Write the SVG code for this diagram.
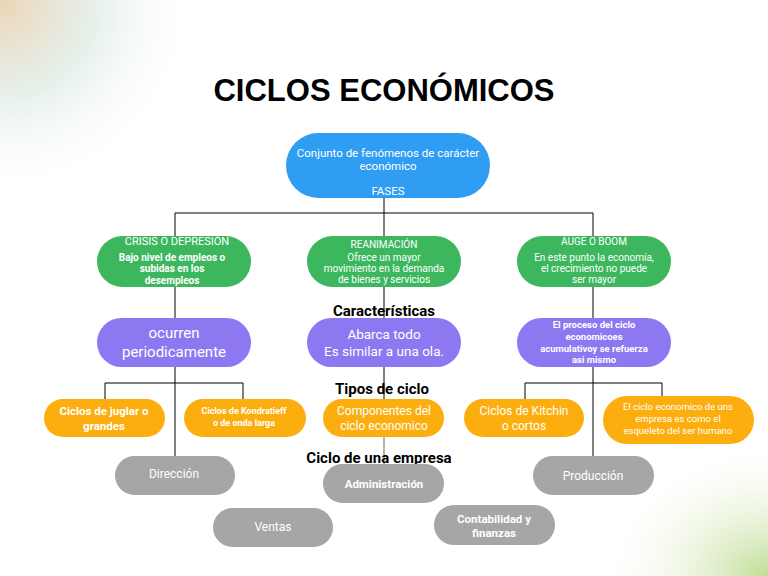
<svg xmlns="http://www.w3.org/2000/svg" width="768" height="576" viewBox="0 0 768 576">
<defs>
<radialGradient id="g1" cx="0" cy="0" r="1"><stop offset="0" stop-color="#e8c9a0" stop-opacity="0.8"/><stop offset="0.5" stop-color="#cfe3d8" stop-opacity="0.5"/><stop offset="1" stop-color="#fff" stop-opacity="0"/></radialGradient>
<radialGradient id="g2" cx="1" cy="1" r="1"><stop offset="0" stop-color="#b9d98a" stop-opacity="0.9"/><stop offset="0.6" stop-color="#e5f0d0" stop-opacity="0.4"/><stop offset="1" stop-color="#fff" stop-opacity="0"/></radialGradient>
</defs>
<style>
.c{fill:none;stroke:#000;stroke-width:1}
.t{font-family:Roboto,"Liberation Sans",sans-serif;text-anchor:middle;fill:#fff}
.b{font-weight:bold}
.h{font-family:Roboto,"Liberation Sans",sans-serif;text-anchor:middle;font-weight:bold;fill:#000}
.blue{fill:#2f9df2}.green{fill:#3db75e}.purple{fill:#8e78f2}.orange{fill:#fbae0e}.gray{fill:#a6a6a6}
</style>
<rect width="768" height="576" fill="#fff"/>
<rect x="0" y="0" width="200" height="200" fill="url(#g1)"/>
<rect x="600" y="440" width="168" height="136" fill="url(#g2)"/>
<text x="384" y="101" class="h" style="font-family:'Liberation Sans',sans-serif;font-size:31px">CICLOS ECONÓMICOS</text>
<g id="connectors">
<path class="c" d="M384 198V213M175 213H593M175 213V236M384 213V236M593 213V236"/>
<path class="c" d="M175 287V318M384 287V318M593 287V318"/>
<path class="c" d="M175 367V456M105 383H243M105 383V399M243 383V399"/>
<path class="c" d="M384 367V399"/>
<path class="c" d="M593 367V456M525 383H662M525 383V399M662 383V396"/>
<path d="M384 437V465" fill="none" stroke="#999" stroke-width="1.5"/>
</g>
<g id="n-top"><rect x="286" y="133" width="204" height="65" rx="32.5" class="blue"/>
<text class="t" font-size="11.5"><tspan x="388" y="157">Conjunto de fenómenos de carácter</tspan><tspan x="388" y="170">económico</tspan><tspan x="388" y="195">FASES</tspan></text></g>
<g id="n-crisis"><rect x="97" y="236" width="154" height="51" rx="25.5" class="green"/>
<text class="t" font-size="11"><tspan x="177" y="245">CRISIS O DEPRESIÓN</tspan></text>
<text class="t b" font-size="10"><tspan x="172" y="261">Bajo nivel de empleos o</tspan><tspan x="172" y="272">subidas en los</tspan><tspan x="172" y="284">desempleos</tspan></text></g>
<g id="n-rean"><rect x="307" y="236" width="154" height="51" rx="25.5" class="green"/>
<text class="t" font-size="10"><tspan x="384" y="248">REANIMACIÓN</tspan><tspan x="384" y="261">Ofrece un mayor</tspan><tspan x="384" y="272">movimiento en la demanda</tspan><tspan x="384" y="283">de bienes y servicios</tspan></text></g>
<g id="n-auge"><rect x="517" y="236" width="154" height="51" rx="25.5" class="green"/>
<text class="t" font-size="10"><tspan x="594" y="245">AUGE O BOOM</tspan><tspan x="594" y="261">En este punto la economía,</tspan><tspan x="594" y="272">el crecimiento no puede</tspan><tspan x="594" y="283">ser mayor</tspan></text></g>
<text x="384" y="316" class="h" font-size="15">Características</text>
<g id="n-ocurren"><rect x="97" y="318" width="154" height="49" rx="24.5" class="purple"/>
<text class="t" font-size="15"><tspan x="174" y="338">ocurren</tspan><tspan x="174" y="357">periodicamente</tspan></text></g>
<g id="n-abarca"><rect x="307" y="318" width="154" height="49" rx="24.5" class="purple"/>
<text class="t" font-size="13.5"><tspan x="384" y="339">Abarca todo</tspan><tspan x="384" y="356">Es similar a una ola.</tspan></text></g>
<g id="n-proceso"><rect x="517" y="318" width="154" height="49" rx="24.5" class="purple"/>
<text class="t b" font-size="9.5"><tspan x="594" y="328">El proceso del ciclo</tspan><tspan x="594" y="340">economicoes</tspan><tspan x="594" y="352">acumulativoy se refuerza</tspan><tspan x="594" y="363">asi mismo</tspan></text></g>
<text x="382" y="394" class="h" font-size="15">Tipos de ciclo</text>
<g id="n-juglar"><rect x="44" y="399" width="121" height="38" rx="19" class="orange"/>
<text class="t b" font-size="11.5"><tspan x="104" y="415">Ciclos de juglar o</tspan><tspan x="104" y="430">grandes</tspan></text></g>
<g id="n-kond"><rect x="184" y="399" width="122" height="38" rx="19" class="orange"/>
<text class="t b" font-size="9"><tspan x="244" y="414">Ciclos de Kondratieff</tspan><tspan x="244" y="426">o de onda larga</tspan></text></g>
<g id="n-comp"><rect x="323" y="399" width="121" height="38" rx="19" class="orange"/>
<text class="t" font-size="12"><tspan x="384" y="415">Componentes del</tspan><tspan x="384" y="430">ciclo economico</tspan></text></g>
<g id="n-kitchin"><rect x="464" y="399" width="120" height="38" rx="19" class="orange"/>
<text class="t" font-size="12"><tspan x="524" y="415">Ciclos de Kitchin</tspan><tspan x="524" y="430">o cortos</tspan></text></g>
<g id="n-esq"><rect x="603" y="396" width="151" height="48" rx="24" class="orange"/>
<text class="t" font-size="9.5"><tspan x="678" y="410">El ciclo economico de uns</tspan><tspan x="678" y="422">empresa es como el</tspan><tspan x="678" y="434">esqueleto del ser humano</tspan></text></g>
<text x="379" y="463" class="h" font-size="15">Ciclo de una empresa</text>
<g id="n-dir"><rect x="115" y="456" width="120" height="39" rx="19.5" class="gray"/><text x="174" y="478" class="t" font-size="12">Dirección</text></g>
<g id="n-adm"><rect x="323" y="464" width="121" height="39" rx="19.5" class="gray"/><text x="384" y="488" class="t b" font-size="11.5">Administración</text></g>
<g id="n-prod"><rect x="533" y="456" width="121" height="39" rx="19.5" class="gray"/><text x="593" y="480" class="t" font-size="12">Producción</text></g>
<g id="n-ventas"><rect x="213" y="508" width="120" height="39" rx="19.5" class="gray"/><text x="273" y="531" class="t" font-size="12">Ventas</text></g>
<g id="n-cont"><rect x="434" y="505" width="121" height="40" rx="20" class="gray"/>
<text class="t b" font-size="11.5"><tspan x="494" y="523">Contabilidad y</tspan><tspan x="494" y="537">finanzas</tspan></text></g>
</svg>
